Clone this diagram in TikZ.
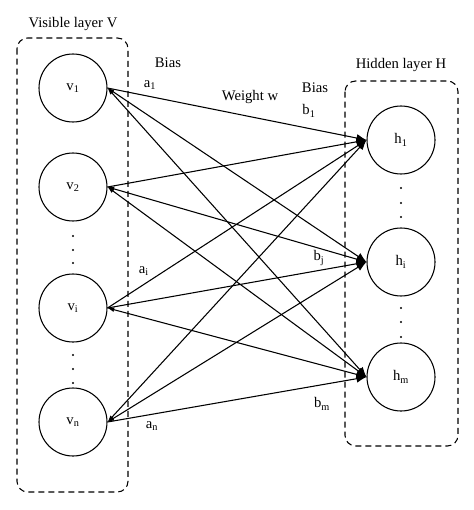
\documentclass[tikz,border=0pt]{standalone}
\usepackage{fontspec}
\setmainfont{Liberation Serif}
\usetikzlibrary{arrows.meta,positioning}

\begin{document}
\begin{tikzpicture}[x=0.75pt,y=-0.75pt,
        unit/.style={draw,line width=0.8pt,circle,minimum size=51pt,inner sep=0pt,font=\fontsize{11}{13}\selectfont},
        layer/.style={draw,line width=0.8pt,dash pattern=on 4.5pt off 3pt,rounded corners=8pt},
        lbl/.style={font=\fontsize{11}{13}\selectfont,inner sep=1pt},
        link/.style={line width=0.8pt,-{Latex[length=7.5pt,width=6pt]}},
        both/.style={line width=0.8pt,{Latex[length=5pt,width=3.5pt]}-{Latex[length=7.5pt,width=6pt]}}
      ]
        \useasboundingbox (0,0) rectangle (474,510);
        % layers
        \draw[layer] (17,38) rectangle (128,492);
        \draw[layer] (345,81) rectangle (458,446);
        \node[lbl] (vislabel) at (73,24) {Visible layer V};
        \node[lbl] (hidlabel) at (401,65) {Hidden layer H};
        % visible units
        \node[unit] (v1) at (73,88) {v\textsubscript{1}};
        \node[unit] (v2) at (73,187) {v\textsubscript{2}};
        \node[unit] (vi) at (73,308) {v\textsubscript{i}};
        \node[unit] (vn) at (73,422) {v\textsubscript{n}};
        % hidden units
        \node[unit] (h1) at (401,140) {h\textsubscript{1}};
        \node[unit] (hi) at (401,262) {h\textsubscript{i}};
        \node[unit] (hm) at (401,377) {h\textsubscript{m}};
        % dots
        \foreach \y in {236,250,263,355,369,383} \fill (73,\y) circle (0.8pt);
        \foreach \y in {188,203,217,308,322,337} \fill (401,\y) circle (0.8pt);
        % weights
        \foreach \v/\h/\s in {v1/h1/link,v1/hi/both,v1/hm/both,
                              v2/h1/link,v2/hi/both,v2/hm/both,
                              vi/h1/link,vi/hi/link,vi/hm/both,
                              vn/h1/both,vn/hi/both,vn/hm/link}
          \draw[\s] (\v.east) -- (\h.west);
        % labels
        \node[lbl] (biasa) at (168,63) {Bias};
        \node[lbl] (biasb) at (315,88) {Bias};
        \node[lbl] (weight) at (250,97) {Weight w};
        \node[lbl] (a1) at (150,85) {a\textsubscript{1}};
        \node[lbl] (ai) at (144,271) {a\textsubscript{i}};
        \node[lbl] (an) at (152,426) {a\textsubscript{n}};
        \node[lbl] (b1) at (309,111) {b\textsubscript{1}};
        \node[lbl] (bj) at (319,258) {b\textsubscript{j}};
        \node[lbl] (bm) at (322,404) {b\textsubscript{m}};
      \end{tikzpicture}
\end{document}
